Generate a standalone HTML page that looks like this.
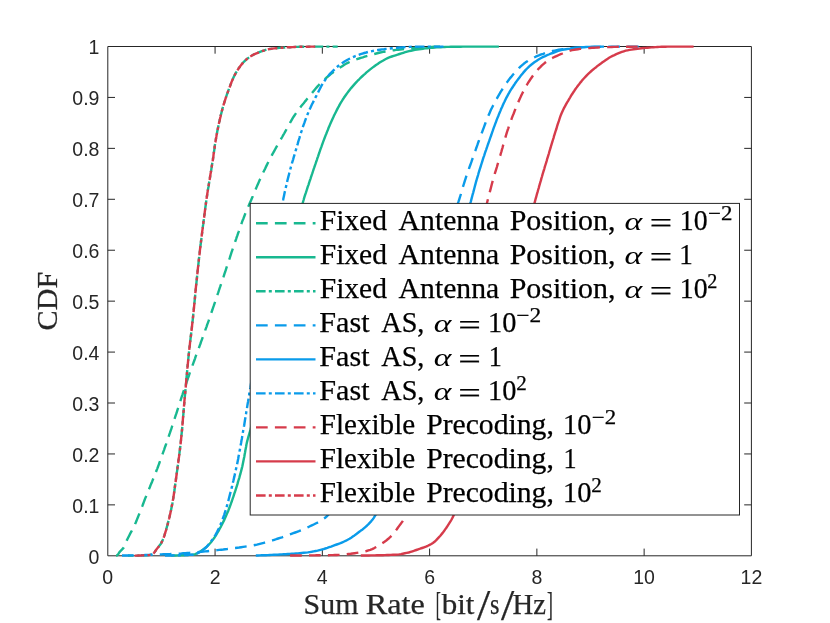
<!DOCTYPE html>
<html lang="en"><head><meta charset="utf-8"><title>CDF of Sum Rate</title>
<style>
html,body{margin:0;padding:0;background:#fff;}
svg{display:block;}
.tk{font-family:"Liberation Sans",Arial,Helvetica,sans-serif;font-size:19.5px;fill:#262626;}
.lb{font-family:"Liberation Serif","Times New Roman",serif;font-size:28.6px;fill:#262626;stroke:#262626;stroke-width:0.25px;}
.lg{font-family:"Liberation Serif","Times New Roman",serif;font-size:28.6px;fill:#000;stroke:#000;stroke-width:0.25px;}
.it{font-style:italic;font-size:25.8px;stroke-width:0;}
.br{font-size:33px;}
.sl{font-size:44.5px;}
.sup{font-size:20px;}
.cv{fill:none;stroke-width:2.4;stroke-linejoin:round;stroke-linecap:butt;}
</style></head><body>
<svg width="830" height="623" viewBox="0 0 830 623">
<rect x="0" y="0" width="830" height="623" fill="#fff"/>
<path d="M107.8 46.5 H751.4 V555.8 H107.8 Z M215.07 555.8 v-7.2 M215.07 46.5 v7.2 M322.33 555.8 v-7.2 M322.33 46.5 v7.2 M429.60 555.8 v-7.2 M429.60 46.5 v7.2 M536.87 555.8 v-7.2 M536.87 46.5 v7.2 M644.13 555.8 v-7.2 M644.13 46.5 v7.2 M107.8 504.87 h7.2 M751.4 504.87 h-7.2 M107.8 453.94 h7.2 M751.4 453.94 h-7.2 M107.8 403.01 h7.2 M751.4 403.01 h-7.2 M107.8 352.08 h7.2 M751.4 352.08 h-7.2 M107.8 301.15 h7.2 M751.4 301.15 h-7.2 M107.8 250.22 h7.2 M751.4 250.22 h-7.2 M107.8 199.29 h7.2 M751.4 199.29 h-7.2 M107.8 148.36 h7.2 M751.4 148.36 h-7.2 M107.8 97.43 h7.2 M751.4 97.43 h-7.2" fill="none" stroke="#262626" stroke-width="1"/>
<text class="tk" x="107.8" y="583.6" text-anchor="middle">0</text>
<text class="tk" x="215.1" y="583.6" text-anchor="middle">2</text>
<text class="tk" x="322.3" y="583.6" text-anchor="middle">4</text>
<text class="tk" x="429.6" y="583.6" text-anchor="middle">6</text>
<text class="tk" x="536.9" y="583.6" text-anchor="middle">8</text>
<text class="tk" x="644.1" y="583.6" text-anchor="middle">10</text>
<text class="tk" x="751.4" y="583.6" text-anchor="middle">12</text>
<text class="tk" x="99.4" y="563.6" text-anchor="end">0</text>
<text class="tk" x="99.4" y="512.7" text-anchor="end">0.1</text>
<text class="tk" x="99.4" y="461.7" text-anchor="end">0.2</text>
<text class="tk" x="99.4" y="410.8" text-anchor="end">0.3</text>
<text class="tk" x="99.4" y="359.9" text-anchor="end">0.4</text>
<text class="tk" x="99.4" y="308.9" text-anchor="end">0.5</text>
<text class="tk" x="99.4" y="258.0" text-anchor="end">0.6</text>
<text class="tk" x="99.4" y="207.1" text-anchor="end">0.7</text>
<text class="tk" x="99.4" y="156.2" text-anchor="end">0.8</text>
<text class="tk" x="99.4" y="105.2" text-anchor="end">0.9</text>
<text class="tk" x="99.4" y="54.3" text-anchor="end">1</text>
<text class="lb" transform="translate(57.2 330.4) rotate(-90)" textLength="58.6" lengthAdjust="spacingAndGlyphs">CDF</text>
<path class="cv" d="M110.8 555.7 L113.0 555.7 L115.0 555.7 L116.7 555.6 L118.1 554.3 L119.3 552.4 L120.7 550.8 L122.1 549.4 L123.5 547.9 L124.4 546.2 L125.2 544.3 L125.9 542.4 L126.7 540.6 L127.6 538.8 L128.5 537.0 L129.4 535.2 L130.3 533.4 L131.3 531.7 L132.2 529.9 L133.2 528.1 L134.0 526.3 L134.9 524.5 L135.7 522.7 L136.5 520.8 L137.2 518.9 L138.0 517.1 L138.7 515.2 L139.5 513.4 L140.2 511.5 L140.9 509.6 L141.6 507.8 L142.4 505.9 L143.1 504.0 L143.8 502.1 L144.5 500.3 L145.2 498.4 L146.0 496.5 L146.7 494.7 L147.5 492.8 L148.2 491.0 L149.0 489.1 L149.8 487.2 L150.5 485.4 L151.3 483.5 L152.1 481.7 L152.8 479.8 L153.6 478.0 L154.4 476.1 L155.1 474.3 L155.8 472.4 L156.5 470.5 L157.3 468.6 L158.0 466.8 L158.7 464.9 L159.4 463.0 L160.0 461.1 L160.7 459.2 L161.4 457.3 L162.1 455.5 L162.7 453.6 L163.4 451.7 L164.1 449.8 L164.7 447.9 L165.4 446.0 L166.1 444.1 L166.7 442.2 L167.4 440.3 L168.0 438.4 L168.7 436.5 L169.3 434.6 L170.0 432.7 L170.6 430.8 L171.3 428.9 L171.9 427.0 L172.5 425.1 L173.1 423.2 L173.8 421.3 L174.4 419.4 L175.0 417.5 L175.6 415.6 L176.3 413.7 L176.9 411.8 L177.5 409.9 L178.1 408.0 L178.7 406.0 L179.4 404.1 L180.0 402.2 L180.6 400.3 L181.2 398.4 L181.8 396.5 L182.5 394.6 L183.1 392.7 L183.7 390.8 L184.4 388.9 L185.0 387.0 L185.6 385.1 L186.3 383.2 L186.9 381.3 L187.6 379.4 L188.2 377.5 L188.9 375.6 L189.5 373.7 L190.2 371.8 L190.9 369.9 L191.6 368.0 L192.2 366.2 L192.9 364.3 L193.6 362.4 L194.3 360.5 L195.0 358.6 L195.6 356.7 L196.3 354.8 L197.0 353.0 L197.7 351.1 L198.4 349.2 L199.1 347.3 L199.8 345.4 L200.5 343.5 L201.1 341.7 L201.8 339.8 L202.5 337.9 L203.2 336.0 L203.9 334.1 L204.6 332.2 L205.2 330.3 L205.9 328.4 L206.6 326.6 L207.2 324.7 L207.9 322.8 L208.6 320.9 L209.2 319.0 L209.9 317.1 L210.5 315.2 L211.2 313.3 L211.8 311.4 L212.5 309.5 L213.1 307.6 L213.8 305.7 L214.4 303.8 L215.1 301.9 L215.7 300.0 L216.3 298.1 L217.0 296.2 L217.6 294.3 L218.3 292.4 L218.9 290.5 L219.5 288.6 L220.2 286.7 L220.8 284.8 L221.5 282.9 L222.1 281.0 L222.7 279.1 L223.4 277.2 L224.0 275.3 L224.6 273.4 L225.3 271.5 L225.9 269.6 L226.5 267.7 L227.1 265.8 L227.8 263.9 L228.4 262.0 L229.0 260.1 L229.7 258.2 L230.3 256.2 L230.9 254.3 L231.5 252.4 L232.2 250.5 L232.8 248.6 L233.5 246.7 L234.1 244.8 L234.7 242.9 L235.4 241.0 L236.1 239.1 L236.7 237.2 L237.4 235.4 L238.0 233.5 L238.7 231.6 L239.3 229.7 L240.0 227.8 L240.7 225.9 L241.4 224.0 L242.0 222.1 L242.7 220.2 L243.5 218.4 L244.2 216.5 L244.9 214.6 L245.7 212.8 L246.4 210.9 L247.2 209.1 L248.0 207.2 L248.8 205.4 L249.6 203.6 L250.4 201.7 L251.2 199.9 L252.0 198.0 L252.8 196.2 L253.5 194.3 L254.3 192.5 L255.1 190.6 L255.9 188.8 L256.7 186.9 L257.5 185.1 L258.3 183.3 L259.1 181.4 L259.9 179.6 L260.8 177.8 L261.6 176.0 L262.5 174.2 L263.3 172.3 L264.2 170.5 L265.1 168.7 L265.9 166.9 L266.8 165.1 L267.7 163.3 L268.6 161.5 L269.5 159.7 L270.5 158.0 L271.4 156.2 L272.3 154.4 L273.3 152.7 L274.3 150.9 L275.2 149.2 L276.2 147.4 L277.2 145.7 L278.2 143.9 L279.2 142.2 L280.2 140.4 L281.2 138.7 L282.2 137.0 L283.2 135.2 L284.2 133.5 L285.2 131.7 L286.1 130.0 L287.1 128.2 L288.1 126.4 L289.0 124.7 L290.0 122.9 L291.0 121.2 L292.0 119.4 L293.0 117.7 L294.1 116.0 L295.2 114.4 L296.3 112.7 L297.5 111.1 L298.7 109.5 L299.9 107.9 L301.1 106.3 L302.4 104.7 L303.7 103.2 L304.9 101.6 L306.2 100.1 L307.5 98.5 L308.8 97.0 L310.0 95.4 L311.3 93.9 L312.6 92.3 L313.9 90.7 L315.1 89.2 L316.5 87.6 L317.8 86.1 L319.1 84.7 L320.5 83.2 L321.9 81.8 L323.3 80.4 L324.8 79.1 L326.3 77.8 L327.9 76.5 L329.4 75.2 L331.0 73.9 L332.6 72.7 L334.2 71.6 L335.9 70.4 L337.5 69.2 L339.2 68.1 L340.9 67.0 L342.6 65.9 L344.3 64.8 L346.0 63.8 L347.8 62.9 L349.6 62.0 L351.4 61.2 L353.2 60.5 L355.1 59.8 L357.0 59.1 L358.9 58.5 L360.8 57.8 L362.8 57.3 L364.7 56.7 L366.6 56.1 L368.5 55.6 L370.5 55.0 L372.4 54.5 L374.4 54.0 L376.3 53.5 L378.2 53.0 L380.2 52.5 L382.2 52.1 L384.1 51.7 L386.1 51.4 L388.1 51.1 L390.0 50.8 L392.0 50.5 L394.0 50.2 L396.0 49.9 L398.0 49.7 L400.0 49.5 L402.0 49.2 L404.0 49.0 L406.0 48.8 L408.0 48.6 L410.0 48.4 L412.0 48.2 L414.0 48.0 L416.0 47.8 L418.0 47.7 L420.0 47.5 L422.0 47.4 L424.0 47.3 L426.0 47.1 L428.0 47.0 L430.0 46.9 L432.0 46.9 L434.0 46.8 L436.0 46.7 L438.0 46.6 L440.0 46.6" stroke="#18b890" stroke-dasharray="11.6 7.13" stroke-dashoffset="13.5"/>
<path class="cv" d="M171.3 555.5 L173.4 555.5 L175.5 555.5 L177.6 555.4 L179.6 555.4 L181.6 555.3 L183.6 555.2 L185.6 555.1 L187.6 555.0 L189.5 554.9 L191.4 554.8 L193.3 554.6 L195.2 554.1 L197.0 553.4 L198.9 552.4 L200.6 551.3 L202.4 550.1 L204.0 549.0 L205.5 547.8 L207.0 546.5 L208.5 545.0 L209.9 543.5 L211.2 542.0 L212.4 540.4 L213.6 538.8 L214.7 537.2 L215.8 535.5 L216.9 533.7 L217.9 532.0 L218.9 530.3 L219.8 528.5 L220.8 526.8 L221.7 525.0 L222.6 523.2 L223.5 521.4 L224.4 519.6 L225.2 517.7 L226.0 515.9 L226.8 514.1 L227.6 512.2 L228.4 510.4 L229.1 508.5 L229.8 506.7 L230.5 504.8 L231.2 502.9 L231.9 501.0 L232.5 499.1 L233.2 497.2 L233.8 495.3 L234.4 493.4 L235.1 491.5 L235.7 489.6 L236.3 487.7 L236.9 485.8 L237.5 483.9 L238.0 481.9 L238.6 480.0 L239.2 478.1 L239.7 476.2 L240.3 474.2 L240.8 472.3 L241.3 470.4 L241.8 468.4 L242.3 466.5 L242.7 464.5 L243.1 462.6 L243.5 460.6 L243.9 458.6 L244.3 456.7 L244.6 454.7 L245.0 452.7 L245.3 450.7 L245.7 448.8 L246.1 446.8 L246.4 444.8 L246.8 442.9 L247.3 440.9 L247.8 439.0 L248.3 437.1 L248.9 435.1 L249.5 433.2 L250.0 431.3 L250.6 429.4 L251.1 427.4 L251.6 425.5 L252.1 423.6" stroke="#18b890"/>
<path class="cv" d="M301.9 205.8 L302.5 203.9 L303.0 202.0 L303.6 200.0 L304.1 198.1 L304.7 196.2 L305.3 194.3 L306.0 192.4 L306.6 190.5 L307.2 188.6 L307.8 186.7 L308.5 184.8 L309.1 182.9 L309.7 181.0 L310.4 179.1 L311.0 177.2 L311.6 175.3 L312.3 173.4 L312.9 171.5 L313.5 169.6 L314.2 167.7 L314.8 165.8 L315.5 163.9 L316.1 162.0 L316.8 160.1 L317.4 158.2 L318.1 156.3 L318.7 154.4 L319.4 152.5 L320.0 150.6 L320.7 148.7 L321.4 146.9 L322.0 145.0 L322.7 143.1 L323.4 141.2 L324.1 139.3 L324.8 137.5 L325.5 135.6 L326.3 133.7 L327.0 131.9 L327.8 130.0 L328.5 128.1 L329.3 126.3 L330.1 124.4 L330.9 122.6 L331.7 120.8 L332.5 119.0 L333.4 117.1 L334.2 115.3 L335.1 113.5 L336.0 111.7 L336.9 109.9 L337.8 108.1 L338.8 106.4 L339.7 104.6 L340.7 102.9 L341.8 101.2 L342.8 99.5 L343.9 97.8 L345.0 96.2 L346.2 94.5 L347.4 92.9 L348.6 91.3 L349.8 89.7 L351.1 88.1 L352.4 86.6 L353.7 85.1 L355.0 83.6 L356.4 82.1 L357.7 80.7 L359.2 79.3 L360.6 77.8 L362.0 76.5 L363.5 75.1 L365.0 73.8 L366.5 72.4 L368.1 71.1 L369.6 69.9 L371.2 68.6 L372.8 67.4 L374.4 66.2 L376.0 65.0 L377.7 63.9 L379.3 62.8 L381.0 61.7 L382.8 60.7 L384.5 59.7 L386.3 58.8 L388.1 57.9 L389.9 57.2 L391.8 56.5 L393.7 55.9 L395.6 55.3 L397.6 54.7 L399.5 54.0 L401.4 53.4 L403.3 52.8 L405.2 52.2 L407.1 51.6 L409.0 51.1 L411.0 50.7 L413.0 50.3 L414.9 49.9 L416.9 49.6 L418.9 49.3 L420.9 49.0 L422.9 48.7 L424.8 48.4 L426.8 48.2 L428.8 48.0 L430.8 47.8 L432.8 47.7 L434.8 47.5 L436.8 47.4 L438.8 47.3 L440.8 47.2 L442.8 47.1 L444.8 47.0 L446.8 46.9 L448.8 46.9 L450.8 46.8 L452.8 46.8 L454.8 46.8 L456.8 46.7 L458.8 46.7 L460.8 46.7 L462.8 46.6 L464.8 46.6 L466.8 46.6 L468.9 46.6 L470.9 46.6 L472.9 46.6 L474.9 46.6 L476.9 46.6 L478.9 46.6 L480.9 46.6 L482.9 46.6 L484.9 46.6 L486.9 46.6 L488.9 46.6 L490.9 46.6 L492.9 46.6 L494.9 46.6 L496.9 46.6 L498.9 46.6" stroke="#18b890"/>
<path class="cv" d="M128.0 555.5 L130.0 555.6 L132.0 555.6 L134.0 555.6 L136.0 555.6 L138.0 555.6 L140.0 555.5 L142.0 555.4 L144.0 555.3 L146.0 555.3 L148.1 555.1 L150.1 554.9 L152.0 554.5 L153.7 553.4 L154.9 551.8 L156.0 550.1 L157.2 548.5 L158.5 546.9 L159.7 545.3 L160.9 543.7 L161.8 541.9 L162.6 540.2 L163.4 538.3 L164.1 536.5 L164.7 534.6 L165.3 532.6 L165.9 530.7 L166.4 528.7 L167.0 526.7 L167.5 524.8 L168.0 522.9 L168.5 520.9 L169.0 519.0 L169.5 517.0 L169.9 515.1 L170.4 513.1 L170.8 511.2 L171.2 509.2 L171.6 507.2 L172.0 505.3 L172.4 503.3 L172.7 501.3 L173.0 499.4 L173.4 497.4 L173.7 495.4 L174.0 493.4 L174.3 491.4 L174.6 489.5 L174.8 487.5 L175.1 485.5 L175.4 483.5 L175.7 481.5 L175.9 479.5 L176.2 477.5 L176.5 475.5 L176.7 473.6 L177.0 471.6 L177.3 469.6 L177.5 467.6 L177.8 465.6 L178.1 463.6 L178.3 461.6 L178.6 459.6 L178.9 457.7 L179.1 455.7 L179.4 453.7 L179.6 451.7 L179.9 449.7 L180.1 447.7 L180.4 445.7 L180.6 443.7 L180.8 441.7 L181.0 439.8 L181.2 437.8 L181.4 435.8 L181.6 433.8 L181.8 431.8 L182.0 429.8 L182.2 427.8 L182.4 425.8 L182.5 423.8 L182.7 421.8 L182.9 419.8 L183.0 417.8 L183.2 415.8 L183.4 413.8 L183.5 411.8 L183.7 409.8 L183.9 407.8 L184.0 405.8 L184.2 403.8 L184.4 401.8 L184.6 399.8 L184.7 397.8 L184.9 395.8 L185.1 393.8 L185.3 391.8 L185.5 389.8 L185.6 387.8 L185.8 385.8 L186.0 383.8 L186.2 381.8 L186.3 379.9 L186.5 377.9 L186.7 375.9 L186.9 373.9 L187.1 371.9 L187.3 369.9 L187.4 367.9 L187.6 365.9 L187.8 363.9 L188.0 361.9 L188.2 359.9 L188.4 357.9 L188.6 355.9 L188.8 353.9 L189.0 351.9 L189.2 349.9 L189.5 347.9 L189.7 345.9 L189.9 344.0 L190.2 342.0 L190.4 340.0 L190.6 338.0 L190.9 336.0 L191.1 334.0 L191.3 332.0 L191.6 330.0 L191.8 328.0 L192.0 326.0 L192.3 324.0 L192.5 322.0 L192.7 320.1 L192.9 318.1 L193.1 316.1 L193.3 314.1 L193.5 312.1 L193.7 310.1 L193.9 308.1 L194.1 306.1 L194.3 304.1 L194.5 302.1 L194.7 300.1 L194.9 298.1 L195.1 296.1 L195.3 294.1 L195.5 292.1 L195.7 290.1 L195.9 288.1 L196.1 286.1 L196.3 284.2 L196.5 282.2 L196.7 280.2 L196.9 278.2 L197.1 276.2 L197.3 274.2 L197.5 272.2 L197.7 270.2 L198.0 268.2 L198.2 266.2 L198.4 264.2 L198.6 262.2 L198.8 260.2 L199.0 258.2 L199.3 256.3 L199.5 254.3 L199.7 252.3 L200.0 250.3 L200.2 248.3 L200.4 246.3 L200.7 244.3 L200.9 242.3 L201.2 240.3 L201.4 238.3 L201.6 236.3 L201.9 234.4 L202.2 232.4 L202.4 230.4 L202.7 228.4 L202.9 226.4 L203.2 224.4 L203.4 222.4 L203.7 220.4 L204.0 218.5 L204.2 216.5 L204.5 214.5 L204.7 212.5 L205.0 210.5 L205.2 208.5 L205.5 206.5 L205.8 204.5 L206.0 202.6 L206.3 200.6 L206.6 198.6 L206.9 196.6 L207.2 194.6 L207.5 192.6 L207.8 190.7 L208.1 188.7 L208.5 186.7 L208.8 184.7 L209.1 182.7 L209.4 180.8 L209.8 178.8 L210.1 176.8 L210.4 174.8 L210.7 172.9 L211.1 170.9 L211.4 168.9 L211.7 166.9 L212.0 164.9 L212.3 163.0 L212.6 161.0 L213.0 159.0 L213.2 157.0 L213.5 155.0 L213.8 153.0 L214.1 151.1 L214.4 149.1 L214.6 147.1 L214.9 145.1 L215.2 143.1 L215.5 141.1 L215.9 139.2 L216.2 137.2 L216.6 135.2 L217.0 133.3 L217.3 131.3 L217.7 129.3 L218.1 127.4 L218.5 125.4 L219.0 123.4 L219.4 121.5 L219.8 119.5 L220.3 117.6 L220.7 115.6 L221.2 113.7 L221.7 111.7 L222.2 109.8 L222.7 107.8 L223.3 105.9 L223.8 104.0 L224.4 102.1 L225.0 100.2 L225.6 98.3 L226.3 96.4 L226.9 94.5 L227.6 92.6 L228.3 90.7 L229.0 88.8 L229.7 86.9 L230.4 85.0 L231.1 83.2 L231.9 81.3 L232.7 79.4 L233.5 77.6 L234.3 75.8 L235.2 74.1 L236.2 72.3 L237.3 70.6 L238.3 68.8 L239.5 67.2 L240.7 65.6 L241.9 64.0 L243.2 62.5 L244.6 61.1 L246.1 59.7 L247.7 58.4 L249.3 57.2 L250.9 56.1 L252.6 55.1 L254.4 54.2 L256.3 53.4 L258.2 52.6 L260.0 51.9 L261.9 51.2 L263.8 50.6 L265.8 49.9 L267.7 49.4 L269.6 49.0 L271.6 48.8 L273.6 48.5 L275.6 48.3 L277.6 48.1 L279.6 47.9 L281.6 47.7 L283.6 47.6 L285.6 47.4 L287.6 47.3 L289.6 47.2 L291.6 47.1 L293.6 47.0 L295.6 46.9 L297.6 46.9 L299.6 46.8 L301.6 46.8 L303.6 46.7 L305.6 46.7 L307.6 46.7 L309.6 46.6 L311.6 46.6 L313.6 46.6 L315.7 46.6 L317.7 46.6 L319.7 46.6 L321.7 46.6 L323.7 46.6 L325.7 46.6 L327.7 46.6 L329.7 46.6 L331.7 46.6 L333.7 46.6 L335.7 46.6 L337.7 46.6" stroke="#18b890" stroke-dasharray="9.6 3.2 3 3.2" stroke-dashoffset="4.3"/>
<path class="cv" d="M119.3 555.5 L121.3 555.5 L123.3 555.5 L125.3 555.5 L127.3 555.5 L129.3 555.4 L131.3 555.4 L133.3 555.4 L135.3 555.3 L137.3 555.3 L139.4 555.2 L141.4 555.2 L143.4 555.1 L145.4 555.0 L147.4 555.0 L149.4 554.9 L151.4 554.8 L153.4 554.8 L155.4 554.7 L157.4 554.6 L159.4 554.5 L161.4 554.4 L163.4 554.3 L165.4 554.2 L167.4 554.2 L169.4 554.1 L171.4 554.0 L173.4 553.9 L175.4 553.8 L177.4 553.7 L179.4 553.6 L181.4 553.5 L183.4 553.3 L185.4 553.2 L187.4 553.0 L189.4 552.9 L191.4 552.7 L193.4 552.5 L195.4 552.4 L197.3 552.2 L199.3 552.0 L201.3 551.8 L203.3 551.6 L205.3 551.4 L207.3 551.2 L209.3 551.0 L211.3 550.8 L213.3 550.5 L215.3 550.3 L217.3 550.1 L219.3 549.9 L221.3 549.7 L223.3 549.5 L225.2 549.2 L227.2 549.0 L229.2 548.7 L231.2 548.5 L233.2 548.2 L235.2 548.0 L237.2 547.7 L239.2 547.5 L241.2 547.2 L243.1 546.9 L245.1 546.6 L247.1 546.3 L249.1 546.0 L251.1 545.7 L253.0 545.4 L255.0 545.0 L256.9 544.6 L258.9 544.1 L260.8 543.6 L262.8 543.1 L264.7 542.6 L266.7 542.1 L268.6 541.5 L270.5 540.9 L272.4 540.4 L274.3 539.8 L276.2 539.2 L278.2 538.5 L280.1 537.9 L282.0 537.3 L283.8 536.6 L285.7 535.9 L287.6 535.3 L289.5 534.6 L291.4 533.9 L293.3 533.2 L295.2 532.5 L297.0 531.8 L298.9 531.1 L300.8 530.3 L302.6 529.6 L304.5 528.8 L306.3 528.0 L308.1 527.2 L309.9 526.3 L311.8 525.4 L313.7 524.5 L315.6 523.5 L317.5 522.6 L319.4 521.5 L321.1 520.5 L322.8 519.4 L324.4 518.3 L325.8 517.2 L327.1 516.0 L328.3 514.8 L329.5 513.5" stroke="#0a9bea" stroke-dasharray="11.7 7.2" stroke-dashoffset="16.2"/>
<path class="cv" d="M457.2 205.5 L457.8 203.6 L458.5 201.7 L459.1 199.8 L459.7 197.9 L460.3 196.0 L460.9 194.1 L461.4 192.2 L462.0 190.3 L462.5 188.3 L463.1 186.4 L463.7 184.5 L464.3 182.6 L464.9 180.7 L465.5 178.8 L466.1 176.9 L466.8 175.0 L467.4 173.1 L468.1 171.2 L468.8 169.3 L469.4 167.4 L470.1 165.5 L470.8 163.6 L471.5 161.7 L472.1 159.8 L472.8 158.0 L473.5 156.1 L474.1 154.2 L474.8 152.3 L475.5 150.4 L476.1 148.5 L476.8 146.6 L477.5 144.7 L478.1 142.8 L478.8 141.0 L479.5 139.1 L480.2 137.2 L480.9 135.3 L481.6 133.4 L482.3 131.6 L483.0 129.7 L483.7 127.8 L484.4 125.9 L485.1 124.0 L485.8 122.1 L486.5 120.3 L487.3 118.4 L488.0 116.6 L488.8 114.7 L489.6 112.9 L490.4 111.1 L491.2 109.3 L492.1 107.5 L493.0 105.7 L493.9 103.9 L494.9 102.1 L495.8 100.3 L496.8 98.6 L497.8 96.8 L498.8 95.1 L499.8 93.4 L500.8 91.6 L501.9 90.0 L503.0 88.3 L504.1 86.6 L505.2 84.9 L506.3 83.3 L507.5 81.6 L508.7 80.0 L509.9 78.4 L511.2 76.9 L512.5 75.3 L513.8 73.8 L515.1 72.3 L516.4 70.8 L517.8 69.3 L519.2 67.8 L520.7 66.4 L522.2 65.1 L523.7 63.8 L525.3 62.6 L526.9 61.5 L528.5 60.4 L530.3 59.4 L532.1 58.5 L533.9 57.6 L535.7 56.7 L537.6 55.9 L539.4 55.2 L541.3 54.4 L543.2 53.8 L545.1 53.1 L547.0 52.5 L548.9 52.0 L550.9 51.5 L552.8 51.0 L554.8 50.6 L556.7 50.2 L558.7 49.8 L560.7 49.5 L562.7 49.2 L564.6 48.9 L566.6 48.6 L568.6 48.4 L570.6 48.2 L572.6 48.0 L574.6 47.8 L576.6 47.7 L578.6 47.6 L580.6 47.5 L582.6 47.4 L584.6 47.3 L586.6 47.3 L588.6 47.2 L590.6 47.1 L592.6 47.1 L594.6 47.0 L596.6 47.0 L598.6 46.9 L600.6 46.9 L602.6 46.8 L604.6 46.8 L606.6 46.8 L608.6 46.7 L610.7 46.7 L612.7 46.7 L614.7 46.6 L616.7 46.6 L618.7 46.6 L620.7 46.6 L622.7 46.6 L624.7 46.6 L626.7 46.6 L628.7 46.6 L630.7 46.6 L632.7 46.6 L634.7 46.6 L636.7 46.6 L638.7 46.6" stroke="#0a9bea" stroke-dasharray="11.7 7.2" stroke-dashoffset="18.35"/>
<path class="cv" d="M255.8 555.5 L257.8 555.5 L259.8 555.4 L261.8 555.3 L263.8 555.3 L265.8 555.2 L267.8 555.1 L269.8 555.0 L271.8 554.9 L273.8 554.8 L275.8 554.7 L277.8 554.6 L279.8 554.5 L281.8 554.4 L283.8 554.3 L285.8 554.2 L287.8 554.0 L289.8 553.9 L291.8 553.8 L293.8 553.7 L295.8 553.5 L297.8 553.4 L299.8 553.2 L301.8 553.0 L303.8 552.8 L305.8 552.6 L307.8 552.4 L309.8 552.1 L311.7 551.8 L313.7 551.4 L315.7 551.0 L317.6 550.6 L319.6 550.1 L321.5 549.6 L323.5 549.1 L325.4 548.5 L327.3 547.9 L329.2 547.2 L331.1 546.6 L333.0 545.9 L334.8 545.2 L336.7 544.5 L338.6 543.8 L340.5 543.1 L342.4 542.3 L344.2 541.5 L346.0 540.7 L347.7 539.8 L349.5 538.8 L351.2 537.7 L352.8 536.6 L354.5 535.4 L356.1 534.2 L357.7 533.0 L359.3 531.8 L360.9 530.6 L362.6 529.4 L364.1 528.1 L365.6 526.8 L367.1 525.5 L368.5 524.1 L369.9 522.6 L371.3 521.1 L372.6 519.5 L373.8 517.9 L374.8 516.2 L375.8 514.6 L376.6 512.9" stroke="#0a9bea"/>
<path class="cv" d="M469.6 205.9 L470.1 203.9 L470.7 202.0 L471.2 200.1 L471.7 198.1 L472.2 196.2 L472.7 194.3 L473.3 192.3 L473.8 190.4 L474.3 188.5 L474.8 186.5 L475.3 184.6 L475.8 182.7 L476.4 180.7 L476.9 178.8 L477.5 176.9 L478.1 175.0 L478.6 173.0 L479.2 171.1 L479.8 169.2 L480.4 167.3 L481.0 165.4 L481.6 163.5 L482.2 161.6 L482.8 159.7 L483.4 157.7 L484.1 155.8 L484.7 153.9 L485.3 152.0 L486.0 150.1 L486.6 148.3 L487.3 146.4 L487.9 144.5 L488.6 142.6 L489.3 140.7 L489.9 138.8 L490.6 136.9 L491.3 135.0 L491.9 133.1 L492.6 131.2 L493.2 129.3 L493.9 127.4 L494.6 125.6 L495.3 123.7 L496.0 121.8 L496.7 119.9 L497.4 118.1 L498.2 116.2 L498.9 114.4 L499.7 112.5 L500.5 110.6 L501.2 108.8 L502.1 106.9 L502.9 105.1 L503.7 103.3 L504.6 101.5 L505.4 99.7 L506.3 97.9 L507.3 96.1 L508.2 94.4 L509.2 92.7 L510.2 90.9 L511.3 89.2 L512.4 87.5 L513.5 85.8 L514.6 84.2 L515.7 82.5 L516.9 80.9 L518.1 79.3 L519.3 77.7 L520.5 76.1 L521.8 74.5 L523.1 72.9 L524.4 71.4 L525.7 69.9 L527.1 68.5 L528.5 67.1 L530.0 65.7 L531.5 64.5 L533.1 63.2 L534.7 62.0 L536.4 60.9 L538.1 59.8 L539.8 58.8 L541.6 57.8 L543.3 56.9 L545.2 56.1 L547.0 55.2 L548.8 54.5 L550.7 53.7 L552.6 53.0 L554.5 52.3 L556.3 51.6 L558.2 50.9 L560.2 50.3 L562.1 49.9 L564.1 49.5 L566.0 49.2 L568.0 48.9 L570.0 48.7 L572.0 48.4 L574.0 48.2 L576.0 48.0 L578.0 47.8 L580.0 47.6 L582.0 47.3 L584.0 47.2 L586.0 47.0 L588.0 46.9 L590.0 46.9 L592.0 46.8 L594.0 46.7 L596.0 46.7 L598.0 46.7 L600.0 46.6 L602.0 46.6 L604.0 46.6" stroke="#0a9bea"/>
<path class="cv" d="M165.0 555.5 L167.1 555.5 L169.2 555.5 L171.3 555.5 L173.4 555.4 L175.4 555.4 L177.5 555.4 L179.5 555.3 L181.5 555.2 L183.4 555.2 L185.4 555.1 L187.3 555.0 L189.2 554.9 L191.1 554.8 L193.0 554.7 L194.9 554.2 L196.8 553.5 L198.7 552.6 L200.5 551.5 L202.2 550.4 L203.8 549.2 L205.3 548.0 L206.8 546.6 L208.1 545.1 L209.4 543.5 L210.7 541.9 L211.9 540.3 L213.1 538.7 L214.2 537.0 L215.2 535.3 L216.2 533.5 L217.1 531.8 L218.0 530.0 L218.9 528.2 L219.7 526.3 L220.5 524.5 L221.3 522.6 L222.0 520.8 L222.7 518.9 L223.4 517.0 L224.1 515.1 L224.7 513.2 L225.3 511.3 L225.9 509.4 L226.5 507.5 L227.0 505.6 L227.6 503.6 L228.1 501.7 L228.6 499.8 L229.1 497.8 L229.6 495.9 L230.1 493.9 L230.6 492.0 L231.1 490.0 L231.6 488.1 L232.1 486.1 L232.5 484.2 L233.0 482.3 L233.5 480.3 L233.9 478.4 L234.4 476.4 L234.8 474.4 L235.3 472.5 L235.7 470.5 L236.1 468.6 L236.6 466.6 L237.0 464.7 L237.4 462.7 L237.8 460.7 L238.2 458.8 L238.5 456.8 L238.9 454.8 L239.3 452.9 L239.6 450.9 L240.0 448.9 L240.4 446.9 L240.7 445.0 L241.1 443.0 L241.4 441.0 L241.8 439.0 L242.1 437.1 L242.5 435.1 L242.8 433.1 L243.1 431.1 L243.5 429.2 L243.8 427.2 L244.2 425.2 L244.5 423.2 L244.8 421.3 L245.1 419.3 L245.5 417.3 L245.8 415.3 L246.1 413.4 L246.4 411.4 L246.8 409.4 L247.1 407.4 L247.4 405.4 L247.7 403.5 L248.1 401.5 L248.4 399.5 L248.7 397.5 L249.0 395.6 L249.4 393.6 L249.7 391.6 L250.0 389.6 L250.4 387.7 L250.7 385.7 L251.0 383.7 L251.4 381.7 L251.7 379.8 L252.0 377.8" stroke="#0a9bea" stroke-dasharray="9.6 3.2 3 3.2"/>
<path class="cv" d="M281.9 206.0 L282.2 204.0 L282.6 202.1 L283.1 200.1 L283.5 198.1 L283.9 196.2 L284.3 194.2 L284.7 192.3 L285.2 190.3 L285.6 188.3 L286.1 186.4 L286.5 184.4 L287.0 182.5 L287.4 180.5 L287.9 178.6 L288.4 176.6 L288.9 174.7 L289.4 172.8 L289.9 170.8 L290.4 168.9 L290.9 167.0 L291.5 165.0 L292.0 163.1 L292.6 161.2 L293.2 159.3 L293.7 157.3 L294.3 155.4 L294.9 153.5 L295.4 151.6 L296.0 149.6 L296.6 147.7 L297.1 145.8 L297.7 143.9 L298.2 141.9 L298.8 140.0 L299.4 138.1 L299.9 136.2 L300.5 134.3 L301.1 132.4 L301.8 130.4 L302.4 128.5 L303.0 126.6 L303.7 124.7 L304.4 122.9 L305.0 121.0 L305.7 119.1 L306.4 117.2 L307.2 115.3 L307.9 113.5 L308.7 111.6 L309.4 109.8 L310.3 108.0 L311.1 106.2 L312.0 104.3 L312.9 102.6 L313.8 100.8 L314.7 99.0 L315.6 97.2 L316.6 95.4 L317.5 93.6 L318.4 91.8 L319.3 90.0 L320.2 88.2 L321.1 86.4 L322.1 84.7 L323.1 83.0 L324.2 81.3 L325.3 79.7 L326.5 78.1 L327.8 76.5 L329.1 74.9 L330.4 73.4 L331.8 72.0 L333.2 70.6 L334.6 69.2 L336.1 67.8 L337.6 66.5 L339.2 65.2 L340.8 64.1 L342.4 62.9 L344.1 61.8 L345.8 60.8 L347.6 59.7 L349.4 58.8 L351.2 57.9 L353.0 57.1 L354.8 56.3 L356.7 55.6 L358.6 54.9 L360.5 54.2 L362.4 53.6 L364.3 53.0 L366.2 52.5 L368.2 51.9 L370.2 51.5 L372.1 51.1 L374.1 50.7 L376.0 50.3 L378.0 50.0 L380.0 49.7 L382.0 49.4 L384.0 49.2 L386.0 48.9 L388.0 48.7 L390.0 48.5 L391.9 48.3 L393.9 48.1 L395.9 47.9 L397.9 47.7 L399.9 47.5 L401.9 47.4 L403.9 47.2 L405.9 47.1 L407.9 47.0 L409.9 46.9 L411.9 46.8 L413.9 46.8 L415.9 46.7 L417.9 46.7 L420.0 46.6 L422.0 46.6 L424.0 46.6 L426.0 46.6 L428.0 46.6 L430.0 46.6 L432.0 46.6 L434.0 46.6 L436.0 46.6 L438.0 46.6 L440.0 46.6 L442.0 46.6 L444.0 46.6" stroke="#0a9bea" stroke-dasharray="9.6 3.2 3 3.2" stroke-dashoffset="13.37"/>
<path class="cv" d="M288.6 555.5 L290.6 555.5 L292.6 555.5 L294.6 555.5 L296.6 555.5 L298.6 555.5 L300.7 555.5 L302.7 555.5 L304.7 555.4 L306.7 555.4 L308.7 555.4 L310.7 555.4 L312.7 555.4 L314.7 555.4 L316.7 555.3 L318.7 555.3 L320.7 555.3 L322.7 555.3 L324.7 555.2 L326.7 555.2 L328.7 555.2 L330.7 555.1 L332.7 555.1 L334.7 555.0 L336.7 555.0 L338.7 554.9 L340.7 554.8 L342.7 554.7 L344.7 554.5 L346.7 554.3 L348.7 554.0 L350.7 553.8 L352.6 553.5 L354.6 553.2 L356.6 552.9 L358.6 552.6 L360.6 552.3 L362.6 551.9 L364.5 551.4 L366.5 551.0 L368.4 550.4 L370.3 549.8 L372.1 549.1 L373.9 548.3 L375.7 547.3 L377.5 546.3 L379.2 545.3 L380.9 544.2 L382.6 543.1 L384.2 542.0 L385.9 540.8 L387.4 539.5 L389.0 538.2 L390.4 536.9 L391.8 535.5 L393.1 534.0 L394.4 532.4 L395.6 530.8 L396.8 529.2 L398.0 527.5 L399.2 525.9 L400.4 524.3 L401.6 522.6 L402.8 521.0 L403.9 519.3 L404.9 517.6 L405.8 515.8 L406.6 514.1 L407.3 512.3" stroke="#d63b4b" stroke-dasharray="11.7 7.2" stroke-dashoffset="17.4"/>
<path class="cv" d="M486.3 205.6 L486.8 203.7 L487.3 201.8 L487.8 199.8 L488.3 197.9 L488.8 195.9 L489.3 194.0 L489.8 192.0 L490.3 190.1 L490.8 188.2 L491.3 186.2 L491.8 184.3 L492.3 182.4 L492.9 180.4 L493.4 178.5 L494.0 176.6 L494.5 174.7 L495.1 172.7 L495.7 170.8 L496.3 168.9 L496.9 167.0 L497.4 165.1 L498.0 163.2 L498.6 161.2 L499.2 159.3 L499.7 157.4 L500.3 155.5 L500.8 153.5 L501.4 151.6 L501.9 149.7 L502.5 147.8 L503.0 145.8 L503.5 143.9 L504.1 142.0 L504.6 140.0 L505.2 138.1 L505.8 136.2 L506.3 134.3 L506.9 132.4 L507.5 130.5 L508.2 128.6 L508.8 126.7 L509.5 124.8 L510.1 122.9 L510.8 121.0 L511.5 119.1 L512.2 117.2 L512.9 115.4 L513.7 113.5 L514.4 111.6 L515.1 109.8 L515.9 107.9 L516.7 106.1 L517.4 104.2 L518.2 102.4 L519.0 100.5 L519.8 98.7 L520.7 96.8 L521.5 95.0 L522.4 93.2 L523.3 91.4 L524.2 89.7 L525.2 87.9 L526.1 86.2 L527.1 84.5 L528.2 82.7 L529.3 81.0 L530.4 79.3 L531.5 77.7 L532.7 76.0 L533.9 74.4 L535.1 72.9 L536.4 71.3 L537.7 69.8 L539.0 68.3 L540.5 66.9 L541.9 65.4 L543.4 64.1 L544.9 62.8 L546.5 61.6 L548.1 60.5 L549.8 59.4 L551.5 58.4 L553.3 57.5 L555.2 56.6 L557.0 55.8 L558.8 55.0 L560.7 54.2 L562.5 53.5 L564.4 52.7 L566.3 52.0 L568.2 51.3 L570.2 50.7 L572.1 50.2 L574.0 49.8 L576.0 49.5 L577.9 49.2 L579.9 48.9 L581.9 48.7 L583.9 48.5 L585.9 48.3 L587.9 48.1 L589.9 48.0 L591.9 47.8 L593.9 47.7 L595.9 47.6 L597.9 47.5 L599.9 47.4 L601.9 47.4 L603.9 47.3 L605.9 47.2 L607.9 47.1 L609.9 47.1 L611.9 47.0 L613.9 46.9 L616.0 46.9 L618.0 46.8 L620.0 46.8 L622.0 46.8 L624.0 46.7 L626.0 46.7 L628.0 46.7 L630.0 46.7 L632.0 46.7 L634.0 46.6 L636.0 46.6 L638.0 46.6 L640.0 46.6 L642.0 46.6 L644.0 46.6" stroke="#d63b4b" stroke-dasharray="11.7 7.2" stroke-dashoffset="5.1"/>
<path class="cv" d="M360.8 555.5 L362.8 555.5 L364.8 555.5 L366.9 555.5 L368.9 555.5 L370.9 555.4 L372.9 555.4 L374.9 555.4 L376.9 555.3 L378.9 555.3 L380.9 555.2 L382.9 555.2 L384.9 555.1 L386.9 555.0 L388.9 555.0 L390.9 554.9 L392.9 554.8 L394.9 554.7 L396.9 554.6 L398.9 554.4 L400.8 554.1 L402.8 553.7 L404.8 553.3 L406.7 552.9 L408.7 552.5 L410.6 551.9 L412.5 551.3 L414.4 550.7 L416.3 550.0 L418.2 549.3 L420.1 548.7 L422.1 548.0 L424.0 547.3 L425.9 546.6 L427.8 545.8 L429.6 544.9 L431.3 544.0 L432.9 543.0 L434.5 541.8 L436.0 540.4 L437.4 538.9 L438.8 537.4 L440.1 536.0 L441.4 534.4 L442.7 532.9 L443.9 531.3 L445.0 529.6 L446.2 528.0 L447.3 526.3 L448.4 524.6 L449.5 522.9 L450.6 521.2 L451.6 519.5 L452.5 517.7 L453.4 515.9 L454.1 514.1 L454.9 512.3" stroke="#d63b4b"/>
<path class="cv" d="M533.8 205.5 L534.4 203.5 L534.9 201.6 L535.4 199.7 L536.0 197.7 L536.5 195.8 L537.0 193.9 L537.6 191.9 L538.1 190.0 L538.7 188.1 L539.2 186.1 L539.8 184.2 L540.3 182.3 L540.9 180.4 L541.4 178.4 L542.0 176.5 L542.5 174.6 L543.1 172.7 L543.7 170.7 L544.3 168.8 L544.8 166.9 L545.4 165.0 L546.0 163.1 L546.6 161.1 L547.1 159.2 L547.7 157.3 L548.3 155.4 L548.9 153.5 L549.4 151.5 L550.0 149.6 L550.6 147.7 L551.1 145.8 L551.7 143.9 L552.3 141.9 L552.9 140.0 L553.5 138.1 L554.0 136.2 L554.6 134.3 L555.2 132.4 L555.8 130.5 L556.5 128.5 L557.0 126.6 L557.6 124.7 L558.2 122.8 L558.9 120.9 L559.5 119.0 L560.1 117.1 L560.8 115.2 L561.6 113.3 L562.4 111.5 L563.2 109.7 L564.1 107.9 L565.1 106.1 L566.0 104.4 L567.0 102.6 L568.1 100.9 L569.1 99.2 L570.1 97.5 L571.1 95.7 L572.2 94.0 L573.3 92.3 L574.4 90.7 L575.5 89.0 L576.7 87.4 L577.9 85.7 L579.1 84.2 L580.3 82.6 L581.6 81.1 L582.9 79.5 L584.3 78.0 L585.6 76.6 L587.0 75.1 L588.5 73.7 L589.9 72.4 L591.4 71.0 L592.9 69.7 L594.5 68.4 L596.1 67.2 L597.6 65.9 L599.2 64.7 L600.9 63.5 L602.5 62.3 L604.1 61.2 L605.8 60.0 L607.4 58.9 L609.1 57.8 L610.9 56.8 L612.6 55.9 L614.4 55.1 L616.3 54.2 L618.1 53.4 L620.0 52.6 L621.9 51.9 L623.8 51.3 L625.7 50.7 L627.6 50.3 L629.6 49.9 L631.5 49.6 L633.5 49.3 L635.5 49.0 L637.5 48.7 L639.5 48.5 L641.5 48.2 L643.5 48.0 L645.5 47.9 L647.5 47.7 L649.5 47.6 L651.5 47.4 L653.5 47.3 L655.5 47.1 L657.5 47.0 L659.5 46.9 L661.5 46.8 L663.5 46.7 L665.5 46.7 L667.5 46.6 L669.5 46.6 L671.5 46.6 L673.6 46.6 L675.6 46.6 L677.6 46.6 L679.6 46.6 L681.6 46.6 L683.6 46.6 L685.6 46.6 L687.6 46.6 L689.6 46.6 L691.6 46.6 L693.6 46.6" stroke="#d63b4b"/>
<path class="cv" d="M134.7 555.6 L136.7 555.6 L138.7 555.5 L140.7 555.5 L142.7 555.4 L144.7 555.3 L146.7 555.2 L148.8 555.1 L150.7 554.8 L152.6 554.1 L154.1 552.9 L155.2 551.2 L156.4 549.5 L157.6 547.9 L158.9 546.3 L160.1 544.7 L161.2 543.1 L162.1 541.3 L162.9 539.5 L163.6 537.7 L164.3 535.8 L164.9 533.9 L165.5 531.9 L166.1 530.0 L166.6 528.0 L167.2 526.1 L167.7 524.1 L168.2 522.2 L168.7 520.3 L169.2 518.3 L169.6 516.4 L170.1 514.4 L170.5 512.4 L171.0 510.5 L171.4 508.5 L171.7 506.5 L172.1 504.6 L172.5 502.6 L172.8 500.6 L173.2 498.7 L173.5 496.7 L173.8 494.7 L174.1 492.7 L174.4 490.7 L174.7 488.8 L174.9 486.8 L175.2 484.8 L175.5 482.8 L175.8 480.8 L176.0 478.8 L176.3 476.8 L176.6 474.8 L176.8 472.8 L177.1 470.9 L177.4 468.9 L177.6 466.9 L177.9 464.9 L178.2 462.9 L178.4 460.9 L178.7 458.9 L179.0 456.9 L179.2 455.0 L179.5 453.0 L179.7 451.0 L180.0 449.0 L180.2 447.0 L180.4 445.0 L180.7 443.0 L180.9 441.0 L181.1 439.0 L181.3 437.0 L181.5 435.0 L181.7 433.0 L181.9 431.1 L182.1 429.1 L182.2 427.1 L182.4 425.1 L182.6 423.1 L182.8 421.1 L182.9 419.1 L183.1 417.1 L183.3 415.1 L183.4 413.1 L183.6 411.1 L183.8 409.1 L183.9 407.1 L184.1 405.1 L184.3 403.1 L184.4 401.1 L184.6 399.1 L184.8 397.1 L185.0 395.1 L185.2 393.1 L185.3 391.1 L185.5 389.1 L185.7 387.1 L185.9 385.1 L186.1 383.1 L186.2 381.1 L186.4 379.1 L186.6 377.1 L186.8 375.1 L187.0 373.1 L187.1 371.1 L187.3 369.1 L187.5 367.1 L187.7 365.1 L187.9 363.1 L188.1 361.1 L188.3 359.2 L188.5 357.2 L188.7 355.2 L188.9 353.2 L189.1 351.2 L189.3 349.2 L189.5 347.2 L189.8 345.2 L190.0 343.2 L190.2 341.2 L190.5 339.2 L190.7 337.2 L191.0 335.2 L191.2 333.2 L191.4 331.3 L191.7 329.3 L191.9 327.3 L192.1 325.3 L192.3 323.3 L192.6 321.3 L192.8 319.3 L193.0 317.3 L193.2 315.3 L193.4 313.3 L193.6 311.3 L193.8 309.3 L194.0 307.3 L194.2 305.3 L194.4 303.3 L194.6 301.3 L194.8 299.4 L195.0 297.4 L195.2 295.4 L195.3 293.4 L195.5 291.4 L195.7 289.4 L195.9 287.4 L196.1 285.4 L196.3 283.4 L196.6 281.4 L196.8 279.4 L197.0 277.4 L197.2 275.4 L197.4 273.4 L197.6 271.4 L197.8 269.4 L198.0 267.4 L198.3 265.4 L198.5 263.5 L198.7 261.5 L198.9 259.5 L199.1 257.5 L199.4 255.5 L199.6 253.5 L199.8 251.5 L200.0 249.5 L200.3 247.5 L200.5 245.5 L200.8 243.5 L201.0 241.5 L201.2 239.6 L201.5 237.6 L201.7 235.6 L202.0 233.6 L202.2 231.6 L202.5 229.6 L202.8 227.6 L203.0 225.6 L203.3 223.6 L203.5 221.7 L203.8 219.7 L204.1 217.7 L204.3 215.7 L204.6 213.7 L204.8 211.7 L205.1 209.7 L205.3 207.7 L205.6 205.7 L205.9 203.8 L206.1 201.8 L206.4 199.8 L206.7 197.8 L207.0 195.8 L207.3 193.8 L207.6 191.9 L207.9 189.9 L208.3 187.9 L208.6 185.9 L208.9 183.9 L209.2 182.0 L209.6 180.0 L209.9 178.0 L210.2 176.0 L210.5 174.1 L210.9 172.1 L211.2 170.1 L211.5 168.1 L211.8 166.1 L212.2 164.2 L212.5 162.2 L212.8 160.2 L213.1 158.2 L213.4 156.2 L213.6 154.2 L213.9 152.3 L214.2 150.3 L214.5 148.3 L214.8 146.3 L215.0 144.3 L215.4 142.3 L215.7 140.4 L216.0 138.4 L216.4 136.4 L216.7 134.4 L217.1 132.5 L217.5 130.5 L217.9 128.5 L218.3 126.6 L218.7 124.6 L219.1 122.6 L219.6 120.7 L220.0 118.7 L220.5 116.8 L220.9 114.8 L221.4 112.9 L221.9 110.9 L222.4 109.0 L223.0 107.1 L223.5 105.1 L224.1 103.2 L224.7 101.3 L225.3 99.4 L225.9 97.5 L226.5 95.6 L227.2 93.7 L227.9 91.8 L228.6 89.9 L229.3 88.0 L230.0 86.2 L230.7 84.3 L231.4 82.4 L232.2 80.5 L233.0 78.7 L233.8 76.9 L234.7 75.1 L235.6 73.3 L236.6 71.6 L237.7 69.9 L238.8 68.2 L240.0 66.5 L241.2 64.9 L242.5 63.4 L243.8 61.9 L245.2 60.5 L246.7 59.1 L248.3 57.8 L249.9 56.7 L251.6 55.7 L253.4 54.7 L255.2 53.9 L257.1 53.1 L259.0 52.3 L260.8 51.6 L262.7 50.9 L264.6 50.3 L266.6 49.7 L268.5 49.2 L270.5 48.9 L272.4 48.6 L274.4 48.4 L276.4 48.2 L278.4 48.0 L280.4 47.8 L282.4 47.7 L284.4 47.5 L286.4 47.4 L288.4 47.3 L290.4 47.2 L292.4 47.1 L294.4 47.0 L296.4 46.9 L298.5 46.8 L300.5 46.8 L302.5 46.8 L304.5 46.7 L306.5 46.7 L308.5 46.7 L310.5 46.6 L312.5 46.6 L314.5 46.6 L316.5 46.6" stroke="#d63b4b" stroke-dasharray="9.6 3.2 3 3.2"/>
<rect x="250.2" y="203.4" width="489.3" height="311.6" fill="#fff" stroke="#262626" stroke-width="1"/>
<path class="cv" d="M256 223.3 H315.5" stroke="#18b890" stroke-dasharray="11.7 7.2"/>
<path class="cv" d="M256 257.3 H315.5" stroke="#18b890"/>
<path class="cv" d="M256 291.3 H315.5" stroke="#18b890" stroke-dasharray="9.6 3.2 3 3.2"/>
<path class="cv" d="M256 325.4 H315.5" stroke="#0a9bea" stroke-dasharray="11.7 7.2"/>
<path class="cv" d="M256 359.4 H315.5" stroke="#0a9bea"/>
<path class="cv" d="M256 393.4 H315.5" stroke="#0a9bea" stroke-dasharray="9.6 3.2 3 3.2"/>
<path class="cv" d="M256 427.4 H315.5" stroke="#d63b4b" stroke-dasharray="11.7 7.2"/>
<path class="cv" d="M256 461.4 H315.5" stroke="#d63b4b"/>
<path class="cv" d="M256 495.5 H315.5" stroke="#d63b4b" stroke-dasharray="9.6 3.2 3 3.2"/>
<text class="lg" x="319.75" y="229.8" textLength="67.21" lengthAdjust="spacingAndGlyphs">Fixed</text>
<text class="lg" x="398.62" y="229.8" textLength="100.55" lengthAdjust="spacingAndGlyphs">Antenna</text>
<text class="lg" x="509.71" y="229.8" textLength="105.70" lengthAdjust="spacingAndGlyphs">Position,</text>
<text class="lg it" x="624.61" y="229.8" textLength="17.74" lengthAdjust="spacingAndGlyphs">α</text>
<text class="lg" x="649.69" y="233.0" textLength="22.38" lengthAdjust="spacingAndGlyphs">=</text>
<text class="lg" x="679.75" y="229.8" textLength="27.81" lengthAdjust="spacingAndGlyphs">10</text>
<text class="lg sup" x="707.99" y="219.6" textLength="24.36" lengthAdjust="spacingAndGlyphs">−2</text>
<text class="lg" x="319.75" y="263.8" textLength="67.21" lengthAdjust="spacingAndGlyphs">Fixed</text>
<text class="lg" x="398.62" y="263.8" textLength="100.55" lengthAdjust="spacingAndGlyphs">Antenna</text>
<text class="lg" x="509.71" y="263.8" textLength="105.70" lengthAdjust="spacingAndGlyphs">Position,</text>
<text class="lg it" x="624.61" y="263.8" textLength="17.74" lengthAdjust="spacingAndGlyphs">α</text>
<text class="lg" x="649.69" y="267.0" textLength="22.38" lengthAdjust="spacingAndGlyphs">=</text>
<text class="lg" x="679.30" y="263.8" textLength="13.57" lengthAdjust="spacingAndGlyphs">1</text>
<text class="lg" x="319.75" y="297.8" textLength="67.21" lengthAdjust="spacingAndGlyphs">Fixed</text>
<text class="lg" x="398.62" y="297.8" textLength="100.55" lengthAdjust="spacingAndGlyphs">Antenna</text>
<text class="lg" x="509.71" y="297.8" textLength="105.70" lengthAdjust="spacingAndGlyphs">Position,</text>
<text class="lg it" x="624.61" y="297.8" textLength="17.74" lengthAdjust="spacingAndGlyphs">α</text>
<text class="lg" x="649.69" y="301.0" textLength="22.38" lengthAdjust="spacingAndGlyphs">=</text>
<text class="lg" x="679.75" y="297.8" textLength="27.81" lengthAdjust="spacingAndGlyphs">10</text>
<text class="lg sup" x="707.26" y="287.6" textLength="10.09" lengthAdjust="spacingAndGlyphs">2</text>
<text class="lg" x="319.29" y="331.9" textLength="50.27" lengthAdjust="spacingAndGlyphs">Fast</text>
<text class="lg" x="381.30" y="331.9" textLength="43.12" lengthAdjust="spacingAndGlyphs">AS,</text>
<text class="lg it" x="433.70" y="331.9" textLength="17.64" lengthAdjust="spacingAndGlyphs">α</text>
<text class="lg" x="458.31" y="335.1" textLength="22.64" lengthAdjust="spacingAndGlyphs">=</text>
<text class="lg" x="488.08" y="331.9" textLength="28.38" lengthAdjust="spacingAndGlyphs">10</text>
<text class="lg sup" x="516.36" y="321.7" textLength="24.87" lengthAdjust="spacingAndGlyphs">−2</text>
<text class="lg" x="319.29" y="365.9" textLength="50.27" lengthAdjust="spacingAndGlyphs">Fast</text>
<text class="lg" x="381.30" y="365.9" textLength="43.12" lengthAdjust="spacingAndGlyphs">AS,</text>
<text class="lg it" x="433.70" y="365.9" textLength="17.64" lengthAdjust="spacingAndGlyphs">α</text>
<text class="lg" x="458.31" y="369.1" textLength="22.64" lengthAdjust="spacingAndGlyphs">=</text>
<text class="lg" x="488.64" y="365.9" textLength="13.11" lengthAdjust="spacingAndGlyphs">1</text>
<text class="lg" x="319.29" y="399.9" textLength="50.27" lengthAdjust="spacingAndGlyphs">Fast</text>
<text class="lg" x="381.30" y="399.9" textLength="43.12" lengthAdjust="spacingAndGlyphs">AS,</text>
<text class="lg it" x="433.70" y="399.9" textLength="17.64" lengthAdjust="spacingAndGlyphs">α</text>
<text class="lg" x="458.31" y="403.1" textLength="22.64" lengthAdjust="spacingAndGlyphs">=</text>
<text class="lg" x="488.08" y="399.9" textLength="28.38" lengthAdjust="spacingAndGlyphs">10</text>
<text class="lg sup" x="516.32" y="389.7" textLength="10.53" lengthAdjust="spacingAndGlyphs">2</text>
<text class="lg" x="319.86" y="433.9" textLength="95.27" lengthAdjust="spacingAndGlyphs">Flexible</text>
<text class="lg" x="426.16" y="433.9" textLength="127.68" lengthAdjust="spacingAndGlyphs">Precoding,</text>
<text class="lg" x="562.92" y="433.9" textLength="28.48" lengthAdjust="spacingAndGlyphs">10</text>
<text class="lg sup" x="591.75" y="423.7" textLength="24.30" lengthAdjust="spacingAndGlyphs">−2</text>
<text class="lg" x="319.86" y="467.9" textLength="95.27" lengthAdjust="spacingAndGlyphs">Flexible</text>
<text class="lg" x="426.16" y="467.9" textLength="127.68" lengthAdjust="spacingAndGlyphs">Precoding,</text>
<text class="lg" x="563.54" y="467.9" textLength="13.09" lengthAdjust="spacingAndGlyphs">1</text>
<text class="lg" x="319.86" y="502.0" textLength="95.27" lengthAdjust="spacingAndGlyphs">Flexible</text>
<text class="lg" x="426.16" y="502.0" textLength="127.68" lengthAdjust="spacingAndGlyphs">Precoding,</text>
<text class="lg" x="562.92" y="502.0" textLength="28.48" lengthAdjust="spacingAndGlyphs">10</text>
<text class="lg sup" x="591.23" y="491.8" textLength="10.53" lengthAdjust="spacingAndGlyphs">2</text>
<text class="lb" x="303.63" y="614.0" textLength="54.79" lengthAdjust="spacingAndGlyphs">Sum</text>
<text class="lb" x="365.65" y="614.0" textLength="59.10" lengthAdjust="spacingAndGlyphs">Rate</text>
<text class="lb br" x="435.83" y="615.3" textLength="5.10" lengthAdjust="spacingAndGlyphs">[</text>
<text class="lb" x="441.72" y="614.0" textLength="32.72" lengthAdjust="spacingAndGlyphs">bit</text>
<text class="lb sl" x="476.90" y="619.8" textLength="13.24" lengthAdjust="spacingAndGlyphs">/</text>
<text class="lb" x="489.91" y="614.0" textLength="9.45" lengthAdjust="spacingAndGlyphs">s</text>
<text class="lb sl" x="501.00" y="619.8" textLength="13.24" lengthAdjust="spacingAndGlyphs">/</text>
<text class="lb" x="512.56" y="614.0" textLength="33.46" lengthAdjust="spacingAndGlyphs">Hz</text>
<text class="lb br" x="546.90" y="615.3" textLength="5.91" lengthAdjust="spacingAndGlyphs">]</text>
</svg>
</body></html>
